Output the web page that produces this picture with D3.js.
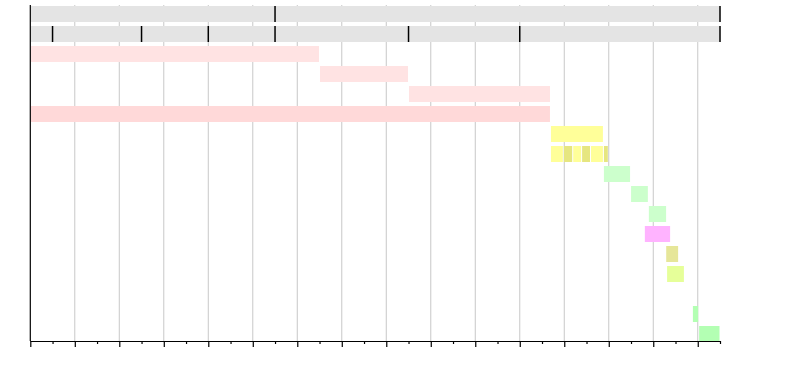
<!DOCTYPE html>
<html>
<head>
<meta charset="utf-8">
<script src="https://cdn.jsdelivr.net/npm/d3@7"></script>
<style>
html,body{margin:0;padding:0;background:#fff;}
svg{display:block;}
</style>
</head>
<body>
<svg id="chart" width="800" height="381"></svg>
<script>
// ---- data ----
const domainExtent = [0, 15.5];
const majorTicks = d3.range(0, 15.5 + 1e-9, 1);
const minorTicks = d3.range(0.5, 15.5 + 1e-9, 1);
const rowCount = 17;
// band rows 0 and 1: segment boundaries
const eonBounds = [0, 5.5, 15.5];
const eraBounds = [0, 0.5, 2.5, 4, 5.5, 8.5, 11, 15.5];
// timeline bars
const barRow   = [2, 3, 4, 5, 6, 7, 7, 7, 7, 7, 7, 8, 9, 10, 11, 12, 13, 15, 16];
const barStart = [0, 6.5, 8.5, 0, 11.69, 11.69, 11.98, 12.19, 12.39, 12.59, 12.88, 12.88, 13.49, 13.89, 13.8, 14.28, 14.3, 14.88, 15.02];
const barEnd   = [6.5, 8.5, 11.69, 11.69, 12.88, 11.98, 12.19, 12.39, 12.59, 12.88, 12.99, 13.49, 13.89, 14.3, 14.39, 14.57, 14.7, 15.02, 15.5];
const barGroup = ["pinkA","pinkA","pinkA","pinkB","yellow","yellow","khaki","yellow","khaki","yellow","khaki","green","green","green","magenta","khaki2","ylgreen","green2","green2"];

const groupColor = {
  pinkA: "#ffe3e3", pinkB: "#ffd9d9", yellow: "#ffff99", khaki: "#e6e680",
  green: "#ccffcc", magenta: "#ffb3ff", khaki2: "#e6e699", ylgreen: "#e6ff99", green2: "#b3ffb3"
};

// ---- scales ----
const svg = d3.select("#chart");
const x = d3.scaleLinear().domain(domainExtent).range([30.3, 720]);
const y = d3.scaleBand().domain(d3.range(rowCount)).range([4, 344]).paddingInner(0.2).paddingOuter(0.1);
const axisY = 341;
const topY = 5;

// gridlines
svg.append("g").selectAll("line").data(majorTicks.filter(t => t > 0))
  .join("line")
  .attr("x1", d => x(d)).attr("x2", d => x(d))
  .attr("y1", topY).attr("y2", axisY)
  .attr("stroke", "#c8c8c8").attr("stroke-width", 1);

// rows 0 and 1 (gray bands with dividers)
function bandRow(bounds, row) {
  const g = svg.append("g");
  const segs = d3.pairs(bounds);
  g.selectAll("rect").data(segs).join("rect")
    .attr("x", d => x(d[0])).attr("width", d => x(d[1]) - x(d[0]))
    .attr("y", y(row)).attr("height", y.bandwidth())
    .attr("fill", "#e4e4e4");
  g.selectAll("line").data(bounds.slice(1)).join("line")
    .attr("x1", d => x(d)).attr("x2", d => x(d))
    .attr("y1", y(row)).attr("y2", y(row) + y.bandwidth())
    .attr("stroke", "#000").attr("stroke-width", 1.5);
}
bandRow(eonBounds, 0);
bandRow(eraBounds, 1);

// bars
const bars = barRow.map((r, i) => ({row: r, s: barStart[i], e: barEnd[i], g: barGroup[i]}));
svg.append("g").selectAll("rect").data(bars).join("rect")
  .attr("x", d => x(d.s) + 0.5)
  .attr("width", d => Math.max(0, x(d.e) - x(d.s) - 1))
  .attr("y", d => y(d.row)).attr("height", y.bandwidth())
  .attr("fill", d => groupColor[d.g]);

// left axis line
svg.append("line").attr("x1", x(0)).attr("x2", x(0)).attr("y1", topY).attr("y2", axisY)
  .attr("stroke", "#000").attr("stroke-width", 1.2);

// bottom axis
const gMinor = svg.append("g").attr("transform", `translate(0,${axisY})`)
  .call(d3.axisBottom(x).tickValues(minorTicks).tickSize(3).tickSizeOuter(0).tickFormat(""));
const gMajor = svg.append("g").attr("transform", `translate(0,${axisY})`)
  .call(d3.axisBottom(x).tickValues(majorTicks).tickSize(6).tickSizeOuter(0).tickFormat(""));
svg.selectAll(".domain").attr("stroke", "#000").attr("stroke-width", 1.2);
svg.selectAll(".tick line").attr("stroke", "#000").attr("stroke-width", 1.2);
</script>
</body>
</html>
